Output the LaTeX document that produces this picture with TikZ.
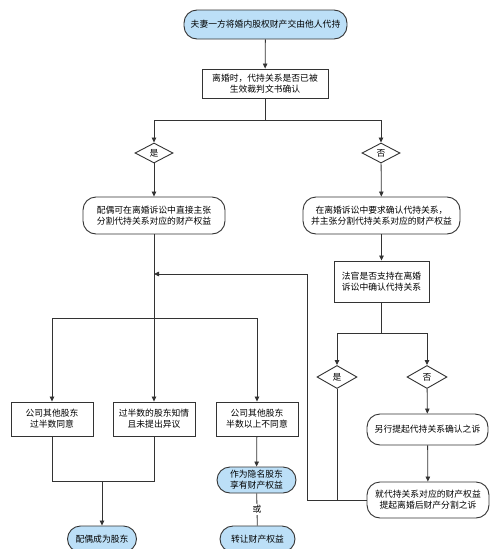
\documentclass[tikz,border=0pt]{standalone}
\usepackage{fontspec}
\setmainfont{Noto Sans CJK SC}
\usetikzlibrary{shapes.geometric,arrows.meta}
\definecolor{fillb}{HTML}{BCDFF7}
\definecolor{lnc}{HTML}{333333}
\begin{document}
\begin{tikzpicture}[x=1pt,y=-1pt,
  base/.style={draw=lnc,line width=0.9pt,inner sep=0pt,align=center,font=\fontsize{8.8}{11}\selectfont,text=black},
  rect/.style={base,rectangle},
  pill/.style={base,rectangle,rounded corners=13pt},
  pillb/.style={pill,fill=fillb},
  dia/.style={base,diamond,minimum width=38pt,minimum height=20pt,aspect=1.9},
  arr/.style={draw=lnc,line width=0.8pt,-{Triangle[length=5pt,width=4.5pt]}},
  lnk/.style={draw=lnc,line width=0.8pt}]
\useasboundingbox (0,0) rectangle (500,549);
\clip (0,0) rectangle (500,549);
\fill[white] (0,0) rectangle (500,549);

\node[pillb, minimum width=163pt, minimum height=29pt] (top) at (265.5,24.5) {夫妻一方将婚内股权财产交由他人代持};
\node[rect, minimum width=126pt, minimum height=29pt] (q1) at (265,83.5) {离婚时，代持关系是否已被\\生效裁判文书确认};
\node[dia] (d1) at (154,153) {是};
\node[dia] (d2) at (381,153) {否};
\node[pill, minimum width=142pt, minimum height=37pt] (r1) at (154,215.5) {配偶可在离婚诉讼中直接主张\\分割代持关系对应的财产权益};
\node[pill, minimum width=157pt, minimum height=37pt] (r2) at (381.5,215.5) {在离婚诉讼中要求确认代持关系，\\并主张分割代持关系对应的财产权益};
\node[rect, minimum width=95pt, minimum height=41pt] (q2) at (381.5,281.5) {法官是否支持在离婚\\诉讼中确认代持关系};
\node[dia, minimum width=40pt, minimum height=23pt] (d3) at (337,377) {是};
\node[dia, minimum width=40pt, minimum height=23pt] (d4) at (427,377) {否};
\node[rect, minimum width=82pt, minimum height=34pt] (b1) at (52,419) {公司其他股东\\过半数同意};
\node[rect, minimum width=82pt, minimum height=34pt] (b2) at (154,419) {过半数的股东知情\\且未提出异议};
\node[rect, minimum width=82pt, minimum height=34pt] (b3) at (257,419) {公司其他股东\\半数以上不同意};
\node[pill, minimum width=121pt, minimum height=31pt] (r3) at (427.5,429.5) {另行提起代持关系确认之诉};
\node[pill, minimum width=122pt, minimum height=36pt] (r4) at (428,500) {就代持关系对应的财产权益\\提起离婚后财产分割之诉};
\node[pillb, minimum width=79pt, minimum height=26pt] (s1) at (256.5,480) {作为隐名股东\\享有财产权益};
\node[pillb, minimum width=69pt, minimum height=26pt] (e1) at (102,539) {配偶成为股东};
\node[pillb, minimum width=75pt, minimum height=26pt] (e2) at (257.5,539) {转让财产权益};

\coordinate (j1) at (265,120);
\coordinate (j2) at (381.5,333);
\coordinate (j3) at (337,500);
\coordinate (c1) at (307,500);
\coordinate (c2) at (307,274);
\coordinate (m1) at (154,274);
\coordinate (j4) at (154,318);
\coordinate (j5) at (102,481);

\draw[arr] (top) -- (q1);
\draw[arr] (q1.south) -- (j1) -| (d1.north);
\draw[arr] (j1) -| (d2.north);
\draw[arr] (d1) -- (r1);
\draw[arr] (d2) -- (r2);
\draw[arr] (r2) -- (q2);
\draw[arr] (q2.south) -- (j2) -| (d3.north);
\draw[arr] (j2) -| (d4.north);
\draw[arr] (d4) -- (r3);
\draw[arr] (r3) -- (r4);
\draw[lnk] (d3.south) -- (j3);
\draw[arr] (r4.west) -- (c1) -- (c2) -- (m1);
\draw[arr] (r1.south) -- (b2.north);
\draw[arr] (j4) -| (b1.north);
\draw[arr] (j4) -| (b3.north);
\draw[lnk] (b1.south) |- (j5);
\draw[lnk] (b2.south) |- (j5);
\draw[arr] (j5) -- (e1);
\draw[arr] (b3) -- (s1);
\draw[lnk] (s1) -- node[fill=white, inner sep=1.5pt, font=\fontsize{8.8}{11}\selectfont, text=black] (or1) {或} (e2);
\end{tikzpicture}
\end{document}
